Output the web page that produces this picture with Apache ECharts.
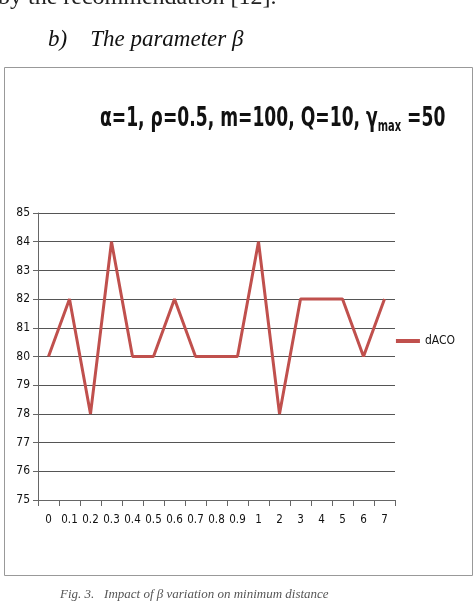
<!DOCTYPE html>
<html><head><meta charset="utf-8">
<script src="https://cdn.jsdelivr.net/npm/echarts@6/dist/echarts.min.js"></script>
<style>html,body{margin:0;background:#fff}#c{width:474px;height:601px}</style>
</head><body><div id="c"></div>
<script>
var categories=['0','0.1','0.2','0.3','0.4','0.5','0.6','0.7','0.8','0.9','1','2','3','4','5','6','7'];
var dACO=[80,82,78,84,80,80,82,80,80,80,84,78,82,82,82,80,82];
var yMin=75,yMax=85;
var chart=echarts.init(document.getElementById('c'));
var cond='"DejaVu Sans Condensed","Liberation Sans Narrow",sans-serif';
chart.setOption({
  animation:false,
  graphic:[
    {type:'text',left:-2,top:-14,style:{text:'by the recommendation [12].',font:'24px "Liberation Serif",serif',fill:'#222'}},
    {type:'text',left:48,top:28,style:{text:'b)    The parameter β',font:'italic 23px "Liberation Serif",serif',fill:'#111'}},
    {type:'rect',shape:{x:4.5,y:67.5,width:468,height:508},style:{fill:'none',stroke:'#999',lineWidth:1}},
    {type:'text',x:100,y:104,scaleX:0.66,style:{
      text:'{a|α=1, ρ=0.5, m=100, Q=10, γ}{s|max}{a| =50}',
      rich:{a:{fontFamily:'DejaVu Sans',fontWeight:'bold',fontSize:26,fill:'#111'},
        s:{fontFamily:'DejaVu Sans',fontWeight:'bold',fontSize:15,fill:'#111',verticalAlign:'bottom',padding:[16,0,0,0]}}}},
    {type:'text',left:60,top:588,style:{text:'Fig. 3.   Impact of β variation on minimum distance',font:'italic 13px "Liberation Serif",serif',fill:'#555'}}
  ],
  legend:{right:14,top:330,itemWidth:24,itemHeight:4,icon:'rect',itemGap:4,
    textStyle:{fontFamily:'DejaVu Sans Condensed',fontSize:12,color:'#111'},data:['dACO']},
  grid:{left:38,right:79,top:213,bottom:101},
  xAxis:{type:'category',data:categories,boundaryGap:true,
    axisLine:{lineStyle:{color:'#666'}},axisTick:{show:true,length:6,interval:0,lineStyle:{color:'#666'}},
    axisLabel:{interval:0,fontFamily:'DejaVu Sans Condensed',fontSize:11.5,color:'#111',margin:14}},
  yAxis:{type:'value',min:yMin,max:yMax,interval:1,
    axisLine:{show:true,lineStyle:{color:'#666'}},axisTick:{show:true,length:5,lineStyle:{color:'#666'}},
    axisLabel:{fontFamily:'DejaVu Sans Condensed',fontSize:12,color:'#111',margin:8},
    splitLine:{lineStyle:{color:'#555',width:1}}},
  series:[{name:'dACO',type:'line',data:dACO,symbol:'none',
    lineStyle:{color:'#c0504d',width:3},itemStyle:{color:'#c0504d'}}]
});
</script></body></html>
